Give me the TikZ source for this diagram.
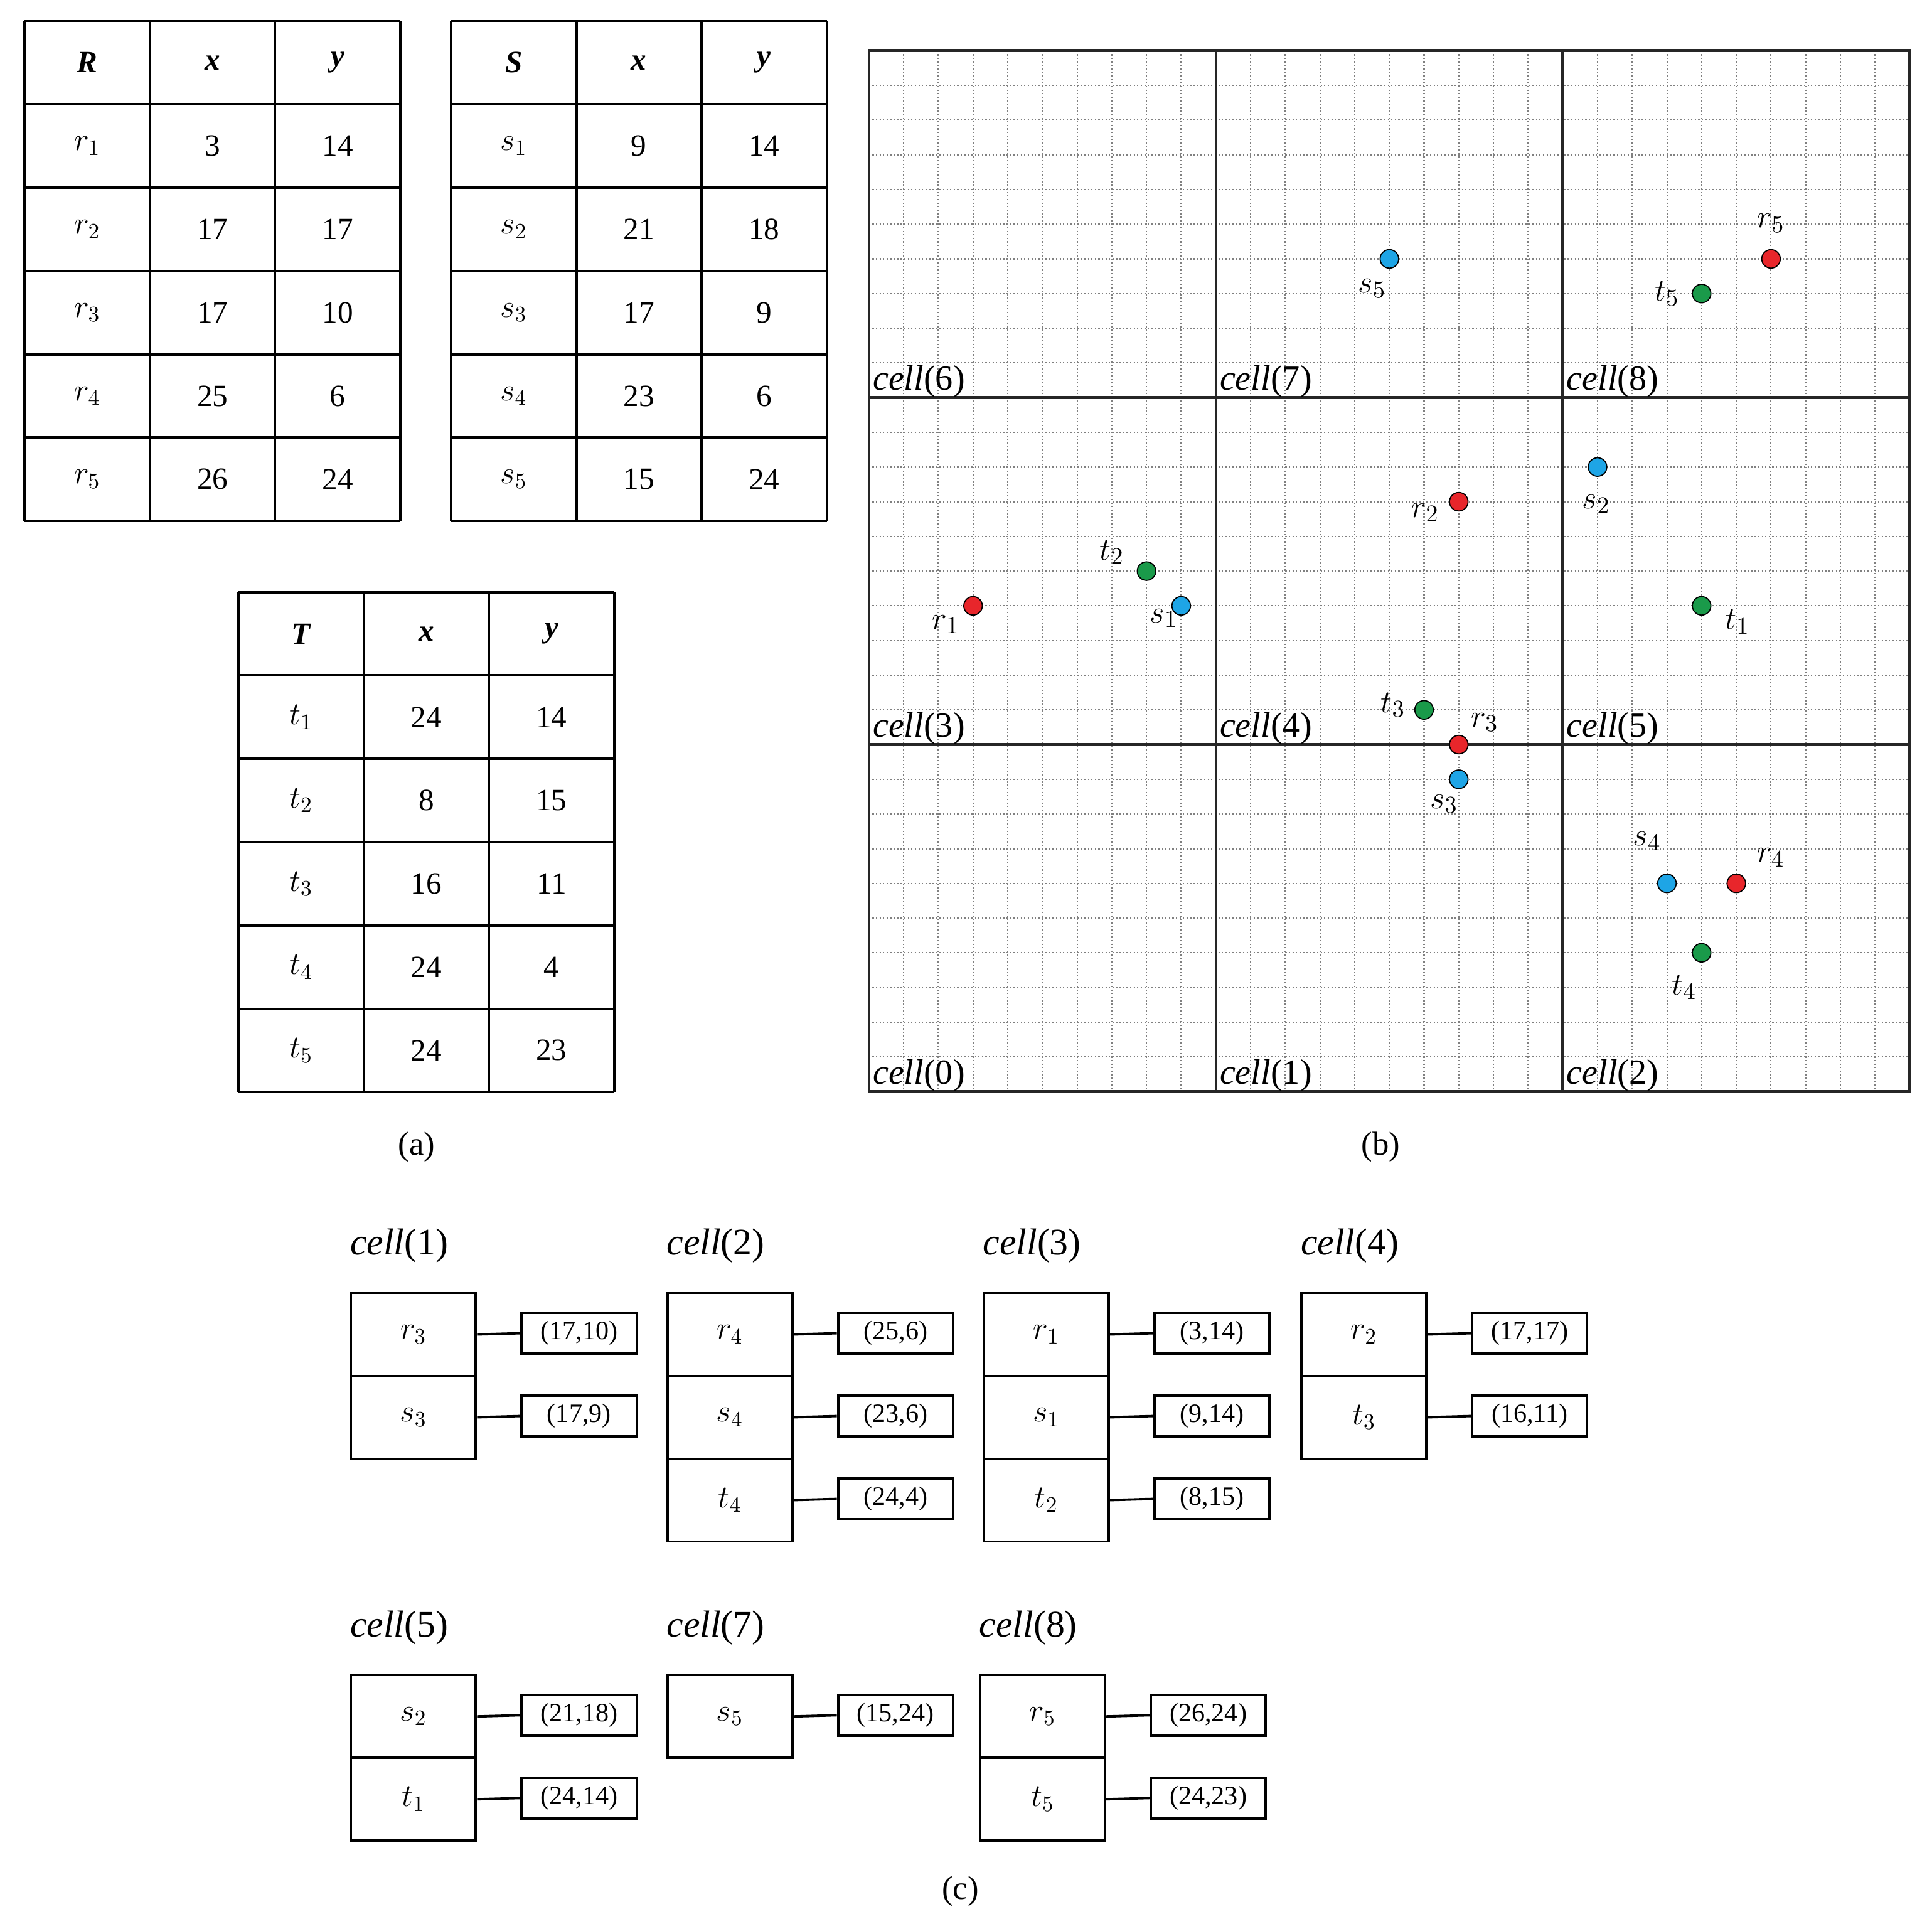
\documentclass[tikz,border=0pt]{standalone}
\usepackage{fontspec}
\setmainfont{Liberation Serif}
\begin{document}
\begin{tikzpicture}[x=0.0197cm,y=-0.0197cm,
  tline/.style={line width=1.1pt},
  txt/.style={font=\fontsize{14}{16}\selectfont,inner sep=0pt},
  clab/.style={font=\fontsize{16}{18}\selectfont\itshape,inner sep=1pt,anchor=south west},
  ctitle/.style={font=\fontsize{17}{19}\selectfont,inner sep=0pt,anchor=south west},
  vbox/.style={draw,line width=1.1pt,minimum width=93*0.0197cm,minimum height=33*0.0197cm,inner sep=0pt,font=\fontsize{12}{14}\selectfont},
  ebox/.style={draw,line width=1.1pt,minimum width=101*0.0197cm,minimum height=67*0.0197cm,inner sep=0pt,font=\fontsize{14}{16}\selectfont},
  dot/.style={circle,draw=black,line width=0.5pt,minimum size=15*0.0197cm,inner sep=0pt},
  plab/.style={font=\fontsize{15}{17}\selectfont,inner sep=0pt}]
\definecolor{pred}{HTML}{E8262B}
\definecolor{pblue}{HTML}{1EA5E6}
\definecolor{pgreen}{HTML}{1A9A4A}
\useasboundingbox (0,0) rectangle (1563,1556);
% ---- tables
\newcommand{\mytable}[4]{% x0, y0, name, data
  \foreach \i in {0,...,6} \draw[tline] (#1,#2+\i*67.4) -- (#1+304,#2+\i*67.4);
  \foreach \j in {0,...,3} \draw[tline] (#1+\j*101.3,#2) -- (#1+\j*101.3,#2+404.4);
  \node[txt,font=\fontsize{14}{16}\selectfont\bfseries\itshape] at (#1+50.6,#2+33.7) {#3};
  \node[txt,font=\fontsize{14}{16}\selectfont\bfseries\itshape] at (#1+151.9,#2+33.7) {x};
  \node[txt,font=\fontsize{14}{16}\selectfont\bfseries\itshape] at (#1+253.2,#2+33.7) {y};
  \foreach \a/\b/\c [count=\k] in {#4} {
    \node[txt] at (#1+50.6,#2+33.7+\k*67.4) {$\a_{\k}$};
    \node[txt] at (#1+151.9,#2+33.7+\k*67.4) {\b};
    \node[txt] at (#1+253.2,#2+33.7+\k*67.4) {\c};
  }
}
\mytable{20}{17}{R}{r/3/14,r/17/17,r/17/10,r/25/6,r/26/24}
\mytable{365}{17}{S}{s/9/14,s/21/18,s/17/9,s/23/6,s/15/24}
\mytable{193}{479}{T}{t/24/14,t/8/15,t/16/11,t/24/4,t/24/23}
\node[txt,font=\fontsize{15}{17}\selectfont] (la) at (337,928) {(a)};
\node[txt,font=\fontsize{15}{17}\selectfont] (lb) at (1117,928) {(b)};
\node[txt,font=\fontsize{15}{17}\selectfont] (lc) at (777,1530) {(c)};
% ---- grid
\foreach \g in {1,...,29} {
  \draw[gray,densely dotted,line width=0.6pt] (703+\g*28.067,41) -- (703+\g*28.067,883);
  \draw[gray,densely dotted,line width=0.6pt] (703,41+\g*28.067) -- (1545,41+\g*28.067);
}
\draw[line width=1.3pt,black!85] (703,41) rectangle (1545,883);
\foreach \v in {983.7,1264.3} \draw[line width=1.3pt,black!85] (\v,41) -- (\v,883);
\foreach \v in {321.7,602.3} \draw[line width=1.3pt,black!85] (703,\v) -- (1545,\v);
\foreach \cx/\cy/\n in {703/883/0,983.7/883/1,1264.3/883/2,703/602.3/3,983.7/602.3/4,1264.3/602.3/5,703/321.7/6,983.7/321.7/7,1264.3/321.7/8}
  \node[clab] (c\n) at (\cx+1,\cy+2) {cell\upshape(\n)};
% ---- points
\foreach \nm/\gx/\gy/\col/\lx/\ly/\lt in {
  r1/3/14/pred/-22/15/r_1, r2/17/17/pred/-27/9/r_2, r3/17/10/pred/21/-18/r_3, r4/25/6/pred/28/-21/r_4, r5/26/24/pred/0/-29/r_5,
  s1/9/14/pblue/-14/10/s_1, s2/21/18/pblue/-1/30/s_2, s3/17/9/pblue/-12/20/s_3, s4/23/6/pblue/-16/-34/s_4, s5/15/24/pblue/-14/24/s_5,
  t1/24/14/pgreen/29/13/t_1, t2/8/15/pgreen/-28/-15/t_2, t3/16/11/pgreen/-25/-4/t_3, t4/24/4/pgreen/-14/28/t_4, t5/24/23/pgreen/-28/0/t_5} {
  \node[dot,fill=\col] (\nm) at (703+\gx*28.067,883-\gy*28.067) {};
  \node[plab] (l\nm) at ([shift={(\lx,\ly)}]\nm) {$\lt$};
}
% ---- (c) buckets
\newcommand{\bucket}[5]{% x, ytitle, boxtop, id, list name/value
  \node[ctitle] (h#4) at (#1,#2) {\itshape cell\upshape(#4)};
  \foreach \e/\val [count=\k] in {#5} {
    \node[ebox,anchor=north west] (e#4\k) at (#1,#3+\k*67-67) {$\e$};
    \node[vbox,anchor=west] (v#4\k) at (#1+138,#3+\k*67-33.5) {\val};
    \draw[line width=1.1pt] (e#4\k.east) -- (v#4\k.west);
  }
}
\bucket{283}{1022}{1045}{1}{r_3/(17{,}10),s_3/(17{,}9)}
\bucket{539}{1022}{1045}{2}{r_4/(25{,}6),s_4/(23{,}6),t_4/(24{,}4)}
\bucket{795}{1022}{1045}{3}{r_1/(3{,}14),s_1/(9{,}14),t_2/(8{,}15)}
\bucket{1052}{1022}{1045}{4}{r_2/(17{,}17),t_3/(16{,}11)}
\bucket{283}{1331}{1354}{5}{s_2/(21{,}18),t_1/(24{,}14)}
\bucket{539}{1331}{1354}{7}{s_5/(15{,}24)}
\bucket{792}{1331}{1354}{8}{r_5/(26{,}24),t_5/(24{,}23)}
\end{tikzpicture}
\end{document}
